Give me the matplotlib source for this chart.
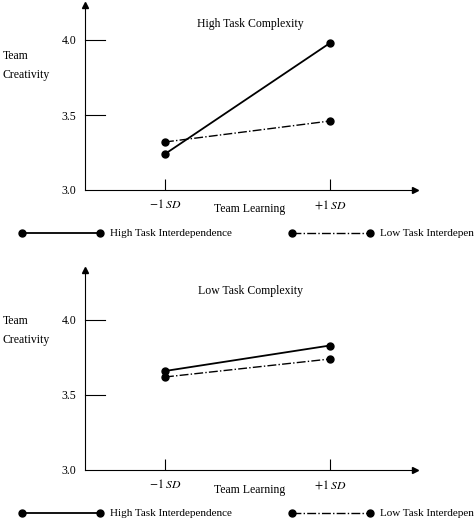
import matplotlib.pyplot as plt

plt.rcParams['font.family'] = ['Liberation Serif', 'DejaVu Serif']
plt.rcParams['mathtext.fontset'] = 'stix'

x_pos = [0, 1]
x_labels = [r'$-1\ \mathit{SD}$', r'$+1\ \mathit{SD}$']
y_ticks = [3.0, 3.5, 4.0]

panels = [
    {'title': 'High Task Complexity', 'high': [3.24, 3.98], 'low': [3.32, 3.46]},
    {'title': 'Low Task Complexity', 'high': [3.66, 3.83], 'low': [3.62, 3.74]},
]

W, H = 474, 522
fig = plt.figure(figsize=(W / 100, H / 100), dpi=100)

# overlay in pixel coordinates for legends and free text
ov = fig.add_axes([0, 0, 1, 1])
ov.set_xlim(0, W)
ov.set_ylim(H, 0)
ov.axis('off')

# (axis bottom y px, axis top y px, legend y px)
layout = [(190, 5, 233), (470, 270, 513)]

for p, (yb, yt, yleg) in zip(panels, layout):
    ax = fig.add_axes([85 / W, (H - yb) / H, 330 / W, (yb - yt) / H])
    ax.set_xlim(-80 / 165, 1 + 85 / 165)
    ax.set_ylim(3.0, 3.0 + (yb - yt) / 150)
    ax.plot(x_pos, p['high'], '-', color='black', lw=1.3, marker='o', ms=5)
    ax.plot(x_pos, p['low'], '-.', color='black', lw=1.0, marker='o', ms=5)
    ax.spines['top'].set_visible(False)
    ax.spines['right'].set_visible(False)
    ax.set_xticks(x_pos)
    ax.set_xticklabels(x_labels, fontsize=8.5)
    ax.set_yticks(y_ticks)
    ax.set_yticklabels(['3.0', '3.5', '4.0'], fontsize=8.5)
    ax.tick_params(direction='in', length=8, width=0.8, pad=6)
    ax.tick_params(axis='y', direction='in', length=0, pad=6)
    for yv in [3.5, 4.0]:
        ax.plot([-80 / 165, -80 / 165 + 0.12], [yv, yv], color='black', lw=0.8, clip_on=False)
    ax.plot(1, 0, '>k', ms=4, transform=ax.transAxes, clip_on=False)
    ax.plot(0, 1, '^k', ms=4, transform=ax.transAxes, clip_on=False)
    ax.text(0.5, 0.88, p['title'], transform=ax.transAxes, ha='center', fontsize=8.5)
    ax.text(0.5, -0.07, 'Team Learning', transform=ax.transAxes, ha='center', va='top', fontsize=8.5)

    ov.text(3, yt + 45, 'Team\nCreativity', fontsize=8.5, va='top', linespacing=1.8)
    ov.plot([22, 100], [yleg, yleg], '-', color='black', lw=1.3, marker='o', ms=5)
    ov.text(110, yleg, 'High Task Interdependence', fontsize=8, va='center')
    ov.plot([292, 370], [yleg, yleg], '-.', color='black', lw=1.0, marker='o', ms=5)
    ov.text(380, yleg, 'Low Task Interdependence', fontsize=8, va='center')

fig.savefig('out.png', dpi=100)
